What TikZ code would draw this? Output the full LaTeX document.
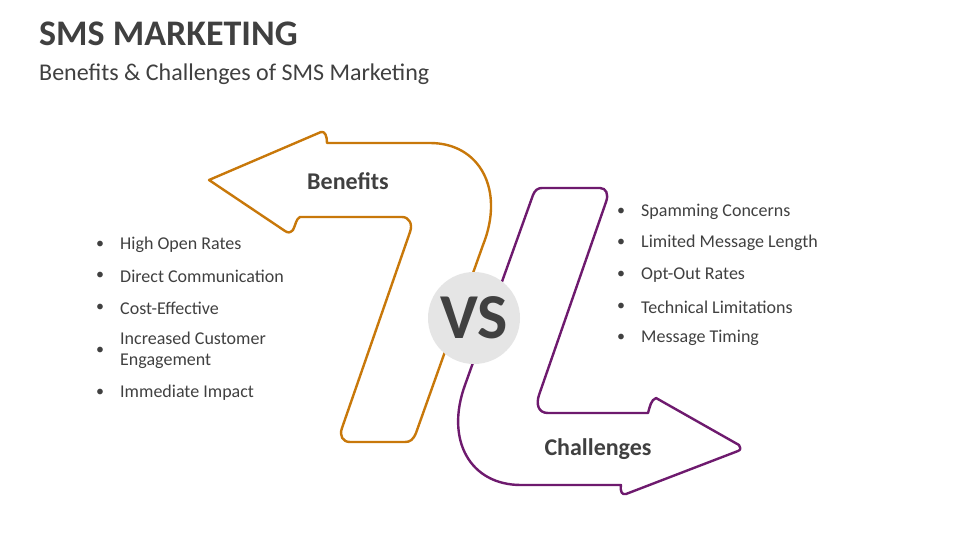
\documentclass[tikz,border=0pt]{standalone}
\usepackage{fontspec}
\setmainfont{Carlito}
\definecolor{txt}{HTML}{404040}
\definecolor{org}{HTML}{C8780A}
\definecolor{pur}{HTML}{6E1A6E}
\begin{document}
\begin{tikzpicture}[x=1pt,y=-1pt,
  item/.style={anchor=west,text=txt,font=\fontsize{18}{21.5}\selectfont,align=left,inner sep=0pt},
  dot/.style={anchor=center,text=txt,font=\fontsize{16}{19}\selectfont,inner sep=0pt},
  outl/.style={line width=2.4pt,line join=round,fill=white}]
\useasboundingbox (0,0) rectangle (960,540);
\node[anchor=west,text=txt,font=\fontsize{36}{40}\selectfont\bfseries,inner sep=0pt] (title) at (39,34) {SMS MARKETING};
\node[anchor=west,text=txt,font=\fontsize{24}{28}\selectfont,inner sep=0pt] (sub) at (39,74) {Benefits \& Challenges of SMS Marketing};
% orange arrow
\draw[outl,draw=org] (209,180) -- (321,132) .. controls (325,131) and (327,136) .. (327,143)
  -- (430,143) .. controls (480,143) and (505,190) .. (483,245)
  -- (416,433) .. controls (413,440) and (410,442) .. (405,442)
  -- (350,442) .. controls (343,442) and (339,436) .. (342,428)
  -- (410,232) .. controls (413,224) and (409,217) .. (402,217)
  -- (300,217) .. controls (296,219) and (296,224) .. (293,230) .. controls (290,233) and (288,233) .. (285,231) -- cycle;
% purple arrow
\draw[outl,draw=pur] (739,445) .. controls (741,447) and (741,450) .. (738,451) -- (626,494) .. controls (622,495) and (620,492) .. (621,485)
  -- (521,485) .. controls (470,485) and (445,440) .. (465,385)
  -- (533,195) .. controls (535,190) and (538,188) .. (542,188)
  -- (600,188) .. controls (606,188) and (609,194) .. (606,202)
  -- (539,395) .. controls (536,404) and (538,413) .. (548,413)
  -- (648,413) .. controls (650,406) and (651,400) .. (656,398) -- cycle;
\node[text=txt,font=\fontsize{24}{28}\selectfont\bfseries] (ben) at (348,181) {Benefits};
\node[text=txt,font=\fontsize{24}{28}\selectfont\bfseries] (cha) at (598,449) {Challenges};
\node[circle,fill=black!10,minimum size=92pt,inner sep=0pt,text=txt,font=\fontsize{64}{68}\selectfont\bfseries] (vs) at (474,318) {VS};
% left bullets
\foreach \y/\t [count=\i] in {245/High Open Rates,276/Direct Communication,308/Cost-Effective,350.5/{Increased Customer\\Engagement},393/Immediate Impact}{
  \node[dot] (lb\i) at (100,\y) {•};
  \node[item] (lt\i) at (120,\y) {\t};
}
\foreach \y/\t [count=\i] in {212/Spamming Concerns,243/Limited Message Length,275/Opt-Out Rates,307/Technical Limitations,338/Message Timing}{
  \node[dot] (rb\i) at (621,\y) {•};
  \node[item] (rt\i) at (641,\y) {\t};
}
\end{tikzpicture}
\end{document}
